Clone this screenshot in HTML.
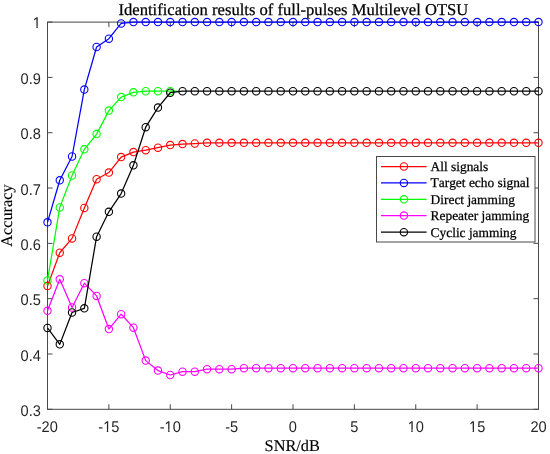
<!DOCTYPE html>
<html><head><meta charset="utf-8"><title>Identification results of full-pulses Multilevel OTSU</title>
<style>html,body{margin:0;padding:0;background:#fff;width:550px;height:454px;overflow:hidden}svg{display:block}text{font-kerning:none;text-rendering:geometricPrecision}</style>
</head><body>
<svg width="550" height="454" viewBox="0 0 550 454">
<rect width="550" height="454" fill="#ffffff"/>
<g stroke="#484848" stroke-width="1" fill="none"><rect x="47.5" y="22.1" width="491.0" height="387.2"/><path d="M47.50 409.30V404.30M47.50 22.10V27.10"/><path d="M108.88 409.30V404.30M108.88 22.10V27.10"/><path d="M170.25 409.30V404.30M170.25 22.10V27.10"/><path d="M231.62 409.30V404.30M231.62 22.10V27.10"/><path d="M293.00 409.30V404.30M293.00 22.10V27.10"/><path d="M354.38 409.30V404.30M354.38 22.10V27.10"/><path d="M415.75 409.30V404.30M415.75 22.10V27.10"/><path d="M477.12 409.30V404.30M477.12 22.10V27.10"/><path d="M538.50 409.30V404.30M538.50 22.10V27.10"/><path d="M47.50 409.30H52.50M538.50 409.30H533.50"/><path d="M47.50 353.99H52.50M538.50 353.99H533.50"/><path d="M47.50 298.67H52.50M538.50 298.67H533.50"/><path d="M47.50 243.36H52.50M538.50 243.36H533.50"/><path d="M47.50 188.04H52.50M538.50 188.04H533.50"/><path d="M47.50 132.73H52.50M538.50 132.73H533.50"/><path d="M47.50 77.41H52.50M538.50 77.41H533.50"/><path d="M47.50 22.10H52.50M538.50 22.10H533.50"/></g>
<g stroke="#ff0000" fill="none" stroke-width="1.10" stroke-linejoin="round"><polyline points="47.50,285.95 59.77,252.76 72.05,238.38 84.33,207.96 96.60,179.19 108.88,172.55 121.15,157.07 133.43,152.09 145.70,150.15 157.97,147.66 170.25,145.12 182.53,144.07 194.80,143.51 207.07,142.85 219.35,142.85 231.62,142.85 243.90,142.85 256.18,142.85 268.45,142.85 280.73,142.85 293.00,142.85 305.27,142.85 317.55,142.85 329.82,142.85 342.10,142.85 354.38,142.85 366.65,142.85 378.93,142.85 391.20,142.85 403.48,142.85 415.75,142.85 428.02,142.85 440.30,142.85 452.57,142.85 464.85,142.85 477.12,142.85 489.40,142.85 501.68,142.85 513.95,142.85 526.23,142.85 538.50,142.85" stroke-width="1.25"/><ellipse cx="47.50" cy="285.95" rx="3.65" ry="3.70"/><ellipse cx="59.77" cy="252.76" rx="3.65" ry="3.70"/><ellipse cx="72.05" cy="238.38" rx="3.65" ry="3.70"/><ellipse cx="84.33" cy="207.96" rx="3.65" ry="3.70"/><ellipse cx="96.60" cy="179.19" rx="3.65" ry="3.70"/><ellipse cx="108.88" cy="172.55" rx="3.65" ry="3.70"/><ellipse cx="121.15" cy="157.07" rx="3.65" ry="3.70"/><ellipse cx="133.43" cy="152.09" rx="3.65" ry="3.70"/><ellipse cx="145.70" cy="150.15" rx="3.65" ry="3.70"/><ellipse cx="157.97" cy="147.66" rx="3.65" ry="3.70"/><ellipse cx="170.25" cy="145.12" rx="3.65" ry="3.70"/><ellipse cx="182.53" cy="144.07" rx="3.65" ry="3.70"/><ellipse cx="194.80" cy="143.51" rx="3.65" ry="3.70"/><ellipse cx="207.07" cy="142.85" rx="3.65" ry="3.70"/><ellipse cx="219.35" cy="142.85" rx="3.65" ry="3.70"/><ellipse cx="231.62" cy="142.85" rx="3.65" ry="3.70"/><ellipse cx="243.90" cy="142.85" rx="3.65" ry="3.70"/><ellipse cx="256.18" cy="142.85" rx="3.65" ry="3.70"/><ellipse cx="268.45" cy="142.85" rx="3.65" ry="3.70"/><ellipse cx="280.73" cy="142.85" rx="3.65" ry="3.70"/><ellipse cx="293.00" cy="142.85" rx="3.65" ry="3.70"/><ellipse cx="305.27" cy="142.85" rx="3.65" ry="3.70"/><ellipse cx="317.55" cy="142.85" rx="3.65" ry="3.70"/><ellipse cx="329.82" cy="142.85" rx="3.65" ry="3.70"/><ellipse cx="342.10" cy="142.85" rx="3.65" ry="3.70"/><ellipse cx="354.38" cy="142.85" rx="3.65" ry="3.70"/><ellipse cx="366.65" cy="142.85" rx="3.65" ry="3.70"/><ellipse cx="378.93" cy="142.85" rx="3.65" ry="3.70"/><ellipse cx="391.20" cy="142.85" rx="3.65" ry="3.70"/><ellipse cx="403.48" cy="142.85" rx="3.65" ry="3.70"/><ellipse cx="415.75" cy="142.85" rx="3.65" ry="3.70"/><ellipse cx="428.02" cy="142.85" rx="3.65" ry="3.70"/><ellipse cx="440.30" cy="142.85" rx="3.65" ry="3.70"/><ellipse cx="452.57" cy="142.85" rx="3.65" ry="3.70"/><ellipse cx="464.85" cy="142.85" rx="3.65" ry="3.70"/><ellipse cx="477.12" cy="142.85" rx="3.65" ry="3.70"/><ellipse cx="489.40" cy="142.85" rx="3.65" ry="3.70"/><ellipse cx="501.68" cy="142.85" rx="3.65" ry="3.70"/><ellipse cx="513.95" cy="142.85" rx="3.65" ry="3.70"/><ellipse cx="526.23" cy="142.85" rx="3.65" ry="3.70"/><ellipse cx="538.50" cy="142.85" rx="3.65" ry="3.70"/></g>

<g stroke="#0000ff" fill="none" stroke-width="1.10" stroke-linejoin="round"><polyline points="47.50,222.34 59.77,180.30 72.05,156.51 84.33,89.58 96.60,46.99 108.88,38.69 121.15,23.48 133.43,22.10 145.70,22.10 157.97,22.10 170.25,22.10 182.53,22.10 194.80,22.10 207.07,22.10 219.35,22.10 231.62,22.10 243.90,22.10 256.18,22.10 268.45,22.10 280.73,22.10 293.00,22.10 305.27,22.10 317.55,22.10 329.82,22.10 342.10,22.10 354.38,22.10 366.65,22.10 378.93,22.10 391.20,22.10 403.48,22.10 415.75,22.10 428.02,22.10 440.30,22.10 452.57,22.10 464.85,22.10 477.12,22.10 489.40,22.10 501.68,22.10 513.95,22.10 526.23,22.10 538.50,22.10" stroke-width="1.25"/><ellipse cx="47.50" cy="222.34" rx="3.65" ry="3.70"/><ellipse cx="59.77" cy="180.30" rx="3.65" ry="3.70"/><ellipse cx="72.05" cy="156.51" rx="3.65" ry="3.70"/><ellipse cx="84.33" cy="89.58" rx="3.65" ry="3.70"/><ellipse cx="96.60" cy="46.99" rx="3.65" ry="3.70"/><ellipse cx="108.88" cy="38.69" rx="3.65" ry="3.70"/><ellipse cx="121.15" cy="23.48" rx="3.65" ry="3.70"/><ellipse cx="133.43" cy="22.10" rx="3.65" ry="3.70"/><ellipse cx="145.70" cy="22.10" rx="3.65" ry="3.70"/><ellipse cx="157.97" cy="22.10" rx="3.65" ry="3.70"/><ellipse cx="170.25" cy="22.10" rx="3.65" ry="3.70"/><ellipse cx="182.53" cy="22.10" rx="3.65" ry="3.70"/><ellipse cx="194.80" cy="22.10" rx="3.65" ry="3.70"/><ellipse cx="207.07" cy="22.10" rx="3.65" ry="3.70"/><ellipse cx="219.35" cy="22.10" rx="3.65" ry="3.70"/><ellipse cx="231.62" cy="22.10" rx="3.65" ry="3.70"/><ellipse cx="243.90" cy="22.10" rx="3.65" ry="3.70"/><ellipse cx="256.18" cy="22.10" rx="3.65" ry="3.70"/><ellipse cx="268.45" cy="22.10" rx="3.65" ry="3.70"/><ellipse cx="280.73" cy="22.10" rx="3.65" ry="3.70"/><ellipse cx="293.00" cy="22.10" rx="3.65" ry="3.70"/><ellipse cx="305.27" cy="22.10" rx="3.65" ry="3.70"/><ellipse cx="317.55" cy="22.10" rx="3.65" ry="3.70"/><ellipse cx="329.82" cy="22.10" rx="3.65" ry="3.70"/><ellipse cx="342.10" cy="22.10" rx="3.65" ry="3.70"/><ellipse cx="354.38" cy="22.10" rx="3.65" ry="3.70"/><ellipse cx="366.65" cy="22.10" rx="3.65" ry="3.70"/><ellipse cx="378.93" cy="22.10" rx="3.65" ry="3.70"/><ellipse cx="391.20" cy="22.10" rx="3.65" ry="3.70"/><ellipse cx="403.48" cy="22.10" rx="3.65" ry="3.70"/><ellipse cx="415.75" cy="22.10" rx="3.65" ry="3.70"/><ellipse cx="428.02" cy="22.10" rx="3.65" ry="3.70"/><ellipse cx="440.30" cy="22.10" rx="3.65" ry="3.70"/><ellipse cx="452.57" cy="22.10" rx="3.65" ry="3.70"/><ellipse cx="464.85" cy="22.10" rx="3.65" ry="3.70"/><ellipse cx="477.12" cy="22.10" rx="3.65" ry="3.70"/><ellipse cx="489.40" cy="22.10" rx="3.65" ry="3.70"/><ellipse cx="501.68" cy="22.10" rx="3.65" ry="3.70"/><ellipse cx="513.95" cy="22.10" rx="3.65" ry="3.70"/><ellipse cx="526.23" cy="22.10" rx="3.65" ry="3.70"/><ellipse cx="538.50" cy="22.10" rx="3.65" ry="3.70"/></g>

<g stroke="#00ff00" fill="none" stroke-width="1.10" stroke-linejoin="round"><polyline points="47.50,280.42 59.77,207.40 72.05,175.49 84.33,149.32 96.60,134.11 108.88,110.60 121.15,97.05 133.43,92.35 145.70,91.24 157.97,91.24 170.25,91.24 177.61,91.24" stroke-width="1.25"/><ellipse cx="47.50" cy="280.42" rx="3.65" ry="3.70"/><ellipse cx="59.77" cy="207.40" rx="3.65" ry="3.70"/><ellipse cx="72.05" cy="175.49" rx="3.65" ry="3.70"/><ellipse cx="84.33" cy="149.32" rx="3.65" ry="3.70"/><ellipse cx="96.60" cy="134.11" rx="3.65" ry="3.70"/><ellipse cx="108.88" cy="110.60" rx="3.65" ry="3.70"/><ellipse cx="121.15" cy="97.05" rx="3.65" ry="3.70"/><ellipse cx="133.43" cy="92.35" rx="3.65" ry="3.70"/><ellipse cx="145.70" cy="91.24" rx="3.65" ry="3.70"/><ellipse cx="157.97" cy="91.24" rx="3.65" ry="3.70"/><ellipse cx="170.25" cy="91.24" rx="3.65" ry="3.70"/></g>

<g stroke="#ff00ff" fill="none" stroke-width="1.10" stroke-linejoin="round"><polyline points="47.50,310.84 59.77,279.31 72.05,307.52 84.33,283.18 96.60,295.91 108.88,329.09 121.15,314.16 133.43,327.66 145.70,360.62 157.97,370.58 170.25,375.01 182.53,371.69 194.80,371.69 207.07,369.20 219.35,369.20 231.62,369.20 243.90,368.20 256.18,368.20 268.45,368.20 280.73,368.20 293.00,368.20 305.27,368.20 317.55,368.20 329.82,368.20 342.10,368.20 354.38,368.20 366.65,368.20 378.93,368.20 391.20,368.20 403.48,368.20 415.75,368.20 428.02,368.20 440.30,368.20 452.57,368.20 464.85,368.20 477.12,368.20 489.40,368.20 501.68,368.20 513.95,368.20 526.23,368.20 538.50,368.20" stroke-width="1.25"/><ellipse cx="47.50" cy="310.84" rx="3.65" ry="3.70"/><ellipse cx="59.77" cy="279.31" rx="3.65" ry="3.70"/><ellipse cx="72.05" cy="307.52" rx="3.65" ry="3.70"/><ellipse cx="84.33" cy="283.18" rx="3.65" ry="3.70"/><ellipse cx="96.60" cy="295.91" rx="3.65" ry="3.70"/><ellipse cx="108.88" cy="329.09" rx="3.65" ry="3.70"/><ellipse cx="121.15" cy="314.16" rx="3.65" ry="3.70"/><ellipse cx="133.43" cy="327.66" rx="3.65" ry="3.70"/><ellipse cx="145.70" cy="360.62" rx="3.65" ry="3.70"/><ellipse cx="157.97" cy="370.58" rx="3.65" ry="3.70"/><ellipse cx="170.25" cy="375.01" rx="3.65" ry="3.70"/><ellipse cx="182.53" cy="371.69" rx="3.65" ry="3.70"/><ellipse cx="194.80" cy="371.69" rx="3.65" ry="3.70"/><ellipse cx="207.07" cy="369.20" rx="3.65" ry="3.70"/><ellipse cx="219.35" cy="369.20" rx="3.65" ry="3.70"/><ellipse cx="231.62" cy="369.20" rx="3.65" ry="3.70"/><ellipse cx="243.90" cy="368.20" rx="3.65" ry="3.70"/><ellipse cx="256.18" cy="368.20" rx="3.65" ry="3.70"/><ellipse cx="268.45" cy="368.20" rx="3.65" ry="3.70"/><ellipse cx="280.73" cy="368.20" rx="3.65" ry="3.70"/><ellipse cx="293.00" cy="368.20" rx="3.65" ry="3.70"/><ellipse cx="305.27" cy="368.20" rx="3.65" ry="3.70"/><ellipse cx="317.55" cy="368.20" rx="3.65" ry="3.70"/><ellipse cx="329.82" cy="368.20" rx="3.65" ry="3.70"/><ellipse cx="342.10" cy="368.20" rx="3.65" ry="3.70"/><ellipse cx="354.38" cy="368.20" rx="3.65" ry="3.70"/><ellipse cx="366.65" cy="368.20" rx="3.65" ry="3.70"/><ellipse cx="378.93" cy="368.20" rx="3.65" ry="3.70"/><ellipse cx="391.20" cy="368.20" rx="3.65" ry="3.70"/><ellipse cx="403.48" cy="368.20" rx="3.65" ry="3.70"/><ellipse cx="415.75" cy="368.20" rx="3.65" ry="3.70"/><ellipse cx="428.02" cy="368.20" rx="3.65" ry="3.70"/><ellipse cx="440.30" cy="368.20" rx="3.65" ry="3.70"/><ellipse cx="452.57" cy="368.20" rx="3.65" ry="3.70"/><ellipse cx="464.85" cy="368.20" rx="3.65" ry="3.70"/><ellipse cx="477.12" cy="368.20" rx="3.65" ry="3.70"/><ellipse cx="489.40" cy="368.20" rx="3.65" ry="3.70"/><ellipse cx="501.68" cy="368.20" rx="3.65" ry="3.70"/><ellipse cx="513.95" cy="368.20" rx="3.65" ry="3.70"/><ellipse cx="526.23" cy="368.20" rx="3.65" ry="3.70"/><ellipse cx="538.50" cy="368.20" rx="3.65" ry="3.70"/></g>

<g stroke="#000000" fill="none" stroke-width="1.10" stroke-linejoin="round"><polyline points="47.50,327.99 59.77,344.36 72.05,312.50 84.33,308.30 96.60,236.72 108.88,211.83 121.15,193.57 133.43,165.36 145.70,127.20 157.97,107.62 170.25,92.74 182.53,91.24 194.80,91.24 207.07,91.24 219.35,91.24 231.62,91.24 243.90,91.24 256.18,91.24 268.45,91.24 280.73,91.24 293.00,91.24 305.27,91.24 317.55,91.24 329.82,91.24 342.10,91.24 354.38,91.24 366.65,91.24 378.93,91.24 391.20,91.24 403.48,91.24 415.75,91.24 428.02,91.24 440.30,91.24 452.57,91.24 464.85,91.24 477.12,91.24 489.40,91.24 501.68,91.24 513.95,91.24 526.23,91.24 538.50,91.24" stroke-width="1.25"/><ellipse cx="47.50" cy="327.99" rx="3.65" ry="3.70"/><ellipse cx="59.77" cy="344.36" rx="3.65" ry="3.70"/><ellipse cx="72.05" cy="312.50" rx="3.65" ry="3.70"/><ellipse cx="84.33" cy="308.30" rx="3.65" ry="3.70"/><ellipse cx="96.60" cy="236.72" rx="3.65" ry="3.70"/><ellipse cx="108.88" cy="211.83" rx="3.65" ry="3.70"/><ellipse cx="121.15" cy="193.57" rx="3.65" ry="3.70"/><ellipse cx="133.43" cy="165.36" rx="3.65" ry="3.70"/><ellipse cx="145.70" cy="127.20" rx="3.65" ry="3.70"/><ellipse cx="157.97" cy="107.62" rx="3.65" ry="3.70"/><ellipse cx="170.25" cy="92.74" rx="3.65" ry="3.70"/><ellipse cx="182.53" cy="91.24" rx="3.65" ry="3.70"/><ellipse cx="194.80" cy="91.24" rx="3.65" ry="3.70"/><ellipse cx="207.07" cy="91.24" rx="3.65" ry="3.70"/><ellipse cx="219.35" cy="91.24" rx="3.65" ry="3.70"/><ellipse cx="231.62" cy="91.24" rx="3.65" ry="3.70"/><ellipse cx="243.90" cy="91.24" rx="3.65" ry="3.70"/><ellipse cx="256.18" cy="91.24" rx="3.65" ry="3.70"/><ellipse cx="268.45" cy="91.24" rx="3.65" ry="3.70"/><ellipse cx="280.73" cy="91.24" rx="3.65" ry="3.70"/><ellipse cx="293.00" cy="91.24" rx="3.65" ry="3.70"/><ellipse cx="305.27" cy="91.24" rx="3.65" ry="3.70"/><ellipse cx="317.55" cy="91.24" rx="3.65" ry="3.70"/><ellipse cx="329.82" cy="91.24" rx="3.65" ry="3.70"/><ellipse cx="342.10" cy="91.24" rx="3.65" ry="3.70"/><ellipse cx="354.38" cy="91.24" rx="3.65" ry="3.70"/><ellipse cx="366.65" cy="91.24" rx="3.65" ry="3.70"/><ellipse cx="378.93" cy="91.24" rx="3.65" ry="3.70"/><ellipse cx="391.20" cy="91.24" rx="3.65" ry="3.70"/><ellipse cx="403.48" cy="91.24" rx="3.65" ry="3.70"/><ellipse cx="415.75" cy="91.24" rx="3.65" ry="3.70"/><ellipse cx="428.02" cy="91.24" rx="3.65" ry="3.70"/><ellipse cx="440.30" cy="91.24" rx="3.65" ry="3.70"/><ellipse cx="452.57" cy="91.24" rx="3.65" ry="3.70"/><ellipse cx="464.85" cy="91.24" rx="3.65" ry="3.70"/><ellipse cx="477.12" cy="91.24" rx="3.65" ry="3.70"/><ellipse cx="489.40" cy="91.24" rx="3.65" ry="3.70"/><ellipse cx="501.68" cy="91.24" rx="3.65" ry="3.70"/><ellipse cx="513.95" cy="91.24" rx="3.65" ry="3.70"/><ellipse cx="526.23" cy="91.24" rx="3.65" ry="3.70"/><ellipse cx="538.50" cy="91.24" rx="3.65" ry="3.70"/></g>

<g font-family="'Liberation Sans', Arial, Helvetica, sans-serif" font-size="14.6" fill="#262626"><g transform="translate(36.75 431.60) scale(1 1.06)"><text x="0" y="0">-20</text></g><g transform="translate(98.32 431.60) scale(1 1.06)"><clipPath id="k1"><path clip-rule="evenodd" d="M-20 -30H41.10V6H-20ZM4.77 -1.89H8.48V3H4.77ZM9.87 -1.89H13.47V3H9.87Z"/></clipPath><text x="0" y="0" clip-path="url(#k1)">-15</text></g><g transform="translate(159.70 431.60) scale(1 1.06)"><clipPath id="k2"><path clip-rule="evenodd" d="M-20 -30H41.10V6H-20ZM4.77 -1.89H8.48V3H4.77ZM9.87 -1.89H13.47V3H9.87Z"/></clipPath><text x="0" y="0" clip-path="url(#k2)">-10</text></g><g transform="translate(225.13 431.60) scale(1 1.06)"><text x="0" y="0">-5</text></g><g transform="translate(288.64 431.60) scale(1 1.06)"><text x="0" y="0">0</text></g><g transform="translate(350.32 431.60) scale(1 1.06)"><text x="0" y="0">5</text></g><g transform="translate(407.63 431.60) scale(1 1.06)"><clipPath id="k3"><path clip-rule="evenodd" d="M-20 -30H36.24V6H-20ZM-0.09 -1.89H3.62V3H-0.09ZM5.01 -1.89H8.61V3H5.01Z"/></clipPath><text x="0" y="0" clip-path="url(#k3)">10</text></g><g transform="translate(469.01 431.60) scale(1 1.06)"><clipPath id="k4"><path clip-rule="evenodd" d="M-20 -30H36.24V6H-20ZM-0.09 -1.89H3.62V3H-0.09ZM5.01 -1.89H8.61V3H5.01Z"/></clipPath><text x="0" y="0" clip-path="url(#k4)">15</text></g><g transform="translate(530.38 431.60) scale(1 1.06)"><text x="0" y="0">20</text></g><g transform="translate(20.60 415.95) scale(1 1.06)"><text x="0" y="0">0.3</text></g><g transform="translate(20.60 360.64) scale(1 1.06)"><text x="0" y="0">0.4</text></g><g transform="translate(20.60 305.32) scale(1 1.06)"><text x="0" y="0">0.5</text></g><g transform="translate(20.60 250.01) scale(1 1.06)"><text x="0" y="0">0.6</text></g><g transform="translate(20.60 194.69) scale(1 1.06)"><text x="0" y="0">0.7</text></g><g transform="translate(20.60 139.38) scale(1 1.06)"><text x="0" y="0">0.8</text></g><g transform="translate(20.60 84.06) scale(1 1.06)"><text x="0" y="0">0.9</text></g><g transform="translate(32.78 28.00) scale(1 1.06)"><clipPath id="k5"><path clip-rule="evenodd" d="M-20 -30H28.12V6H-20ZM-0.09 -1.89H3.62V3H-0.09ZM5.01 -1.89H8.61V3H5.01Z"/></clipPath><text x="0" y="0" clip-path="url(#k5)">1</text></g></g>
<g font-family="'Liberation Serif', 'Times New Roman', serif" font-size="13.4" fill="#000000" stroke-width="0"><rect x="376.5" y="156.5" width="158.5" height="85.5" fill="#ffffff" stroke="#484848" stroke-width="1"/><path d="M381 166.5H426.6" stroke="#ff0000" stroke-width="1.25"/><ellipse cx="403.9" cy="166.5" rx="3.65" ry="3.70" fill="none" stroke="#ff0000" stroke-width="1.10"/><text x="430.6" y="171.0" stroke="#000" stroke-width="0.25">All signals</text><path d="M381 182.9H426.6" stroke="#0000ff" stroke-width="1.25"/><ellipse cx="403.9" cy="182.9" rx="3.65" ry="3.70" fill="none" stroke="#0000ff" stroke-width="1.10"/><text x="430.6" y="187.4" stroke="#000" stroke-width="0.25">Target echo signal</text><path d="M381 199.3H426.6" stroke="#00ff00" stroke-width="1.25"/><ellipse cx="403.9" cy="199.3" rx="3.65" ry="3.70" fill="none" stroke="#00ff00" stroke-width="1.10"/><text x="430.6" y="203.8" stroke="#000" stroke-width="0.25">Direct jamming</text><path d="M381 215.6H426.6" stroke="#ff00ff" stroke-width="1.25"/><ellipse cx="403.9" cy="215.6" rx="3.65" ry="3.70" fill="none" stroke="#ff00ff" stroke-width="1.10"/><text x="430.6" y="220.1" stroke="#000" stroke-width="0.25">Repeater jamming</text><path d="M381 232.2H426.6" stroke="#000000" stroke-width="1.25"/><ellipse cx="403.9" cy="232.2" rx="3.65" ry="3.70" fill="none" stroke="#000000" stroke-width="1.10"/><text x="430.6" y="236.7" stroke="#000" stroke-width="0.25">Cyclic jamming</text></g>
<text x="293.4" y="15.3" text-anchor="middle" font-family="'Liberation Serif', 'Times New Roman', serif" font-size="16.6" fill="#000" stroke="#000" stroke-width="0.25">Identification results of full-pulses Multilevel OTSU</text>
<text x="292.2" y="451.2" text-anchor="middle" font-family="'Liberation Serif', 'Times New Roman', serif" font-size="16.3" fill="#000" stroke="#000" stroke-width="0.12">SNR/dB</text>
<text transform="translate(12.3 215.6) rotate(-90)" text-anchor="middle" font-family="'Liberation Serif', 'Times New Roman', serif" font-size="16.3" fill="#000" stroke="#000" stroke-width="0.12">Accuracy</text>
</svg>
</body></html>
